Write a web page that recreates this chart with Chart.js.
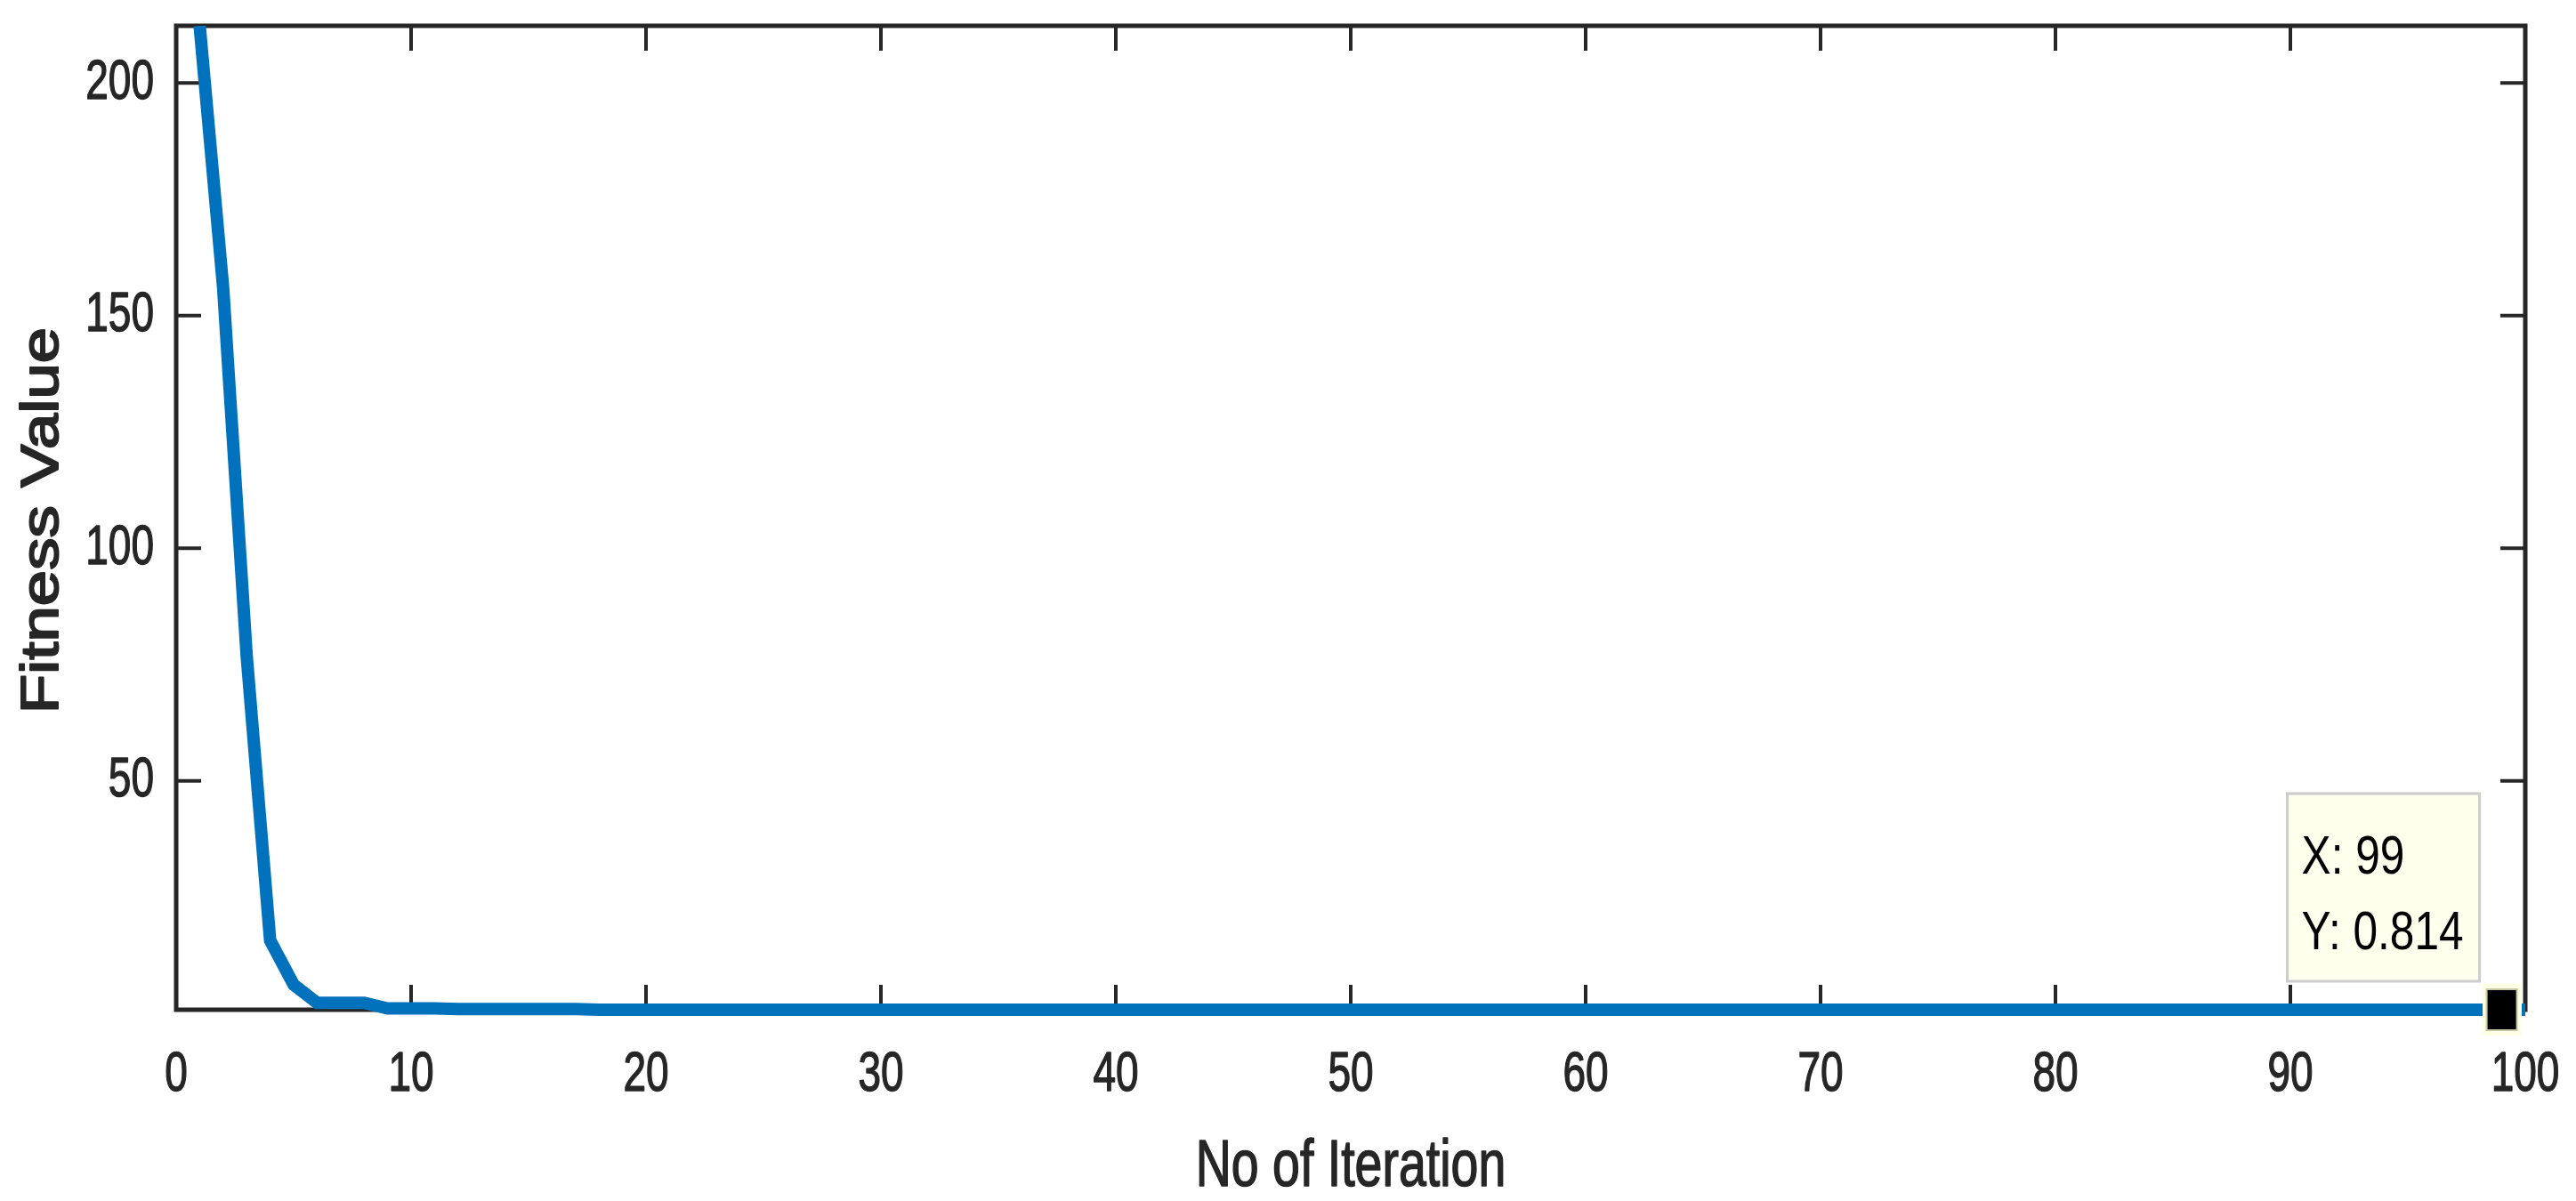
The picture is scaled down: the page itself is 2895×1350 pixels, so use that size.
<!DOCTYPE html>
<html>
<head>
<meta charset="utf-8">
<title>Fitness Value x No of Iteration</title>
<script src="https://cdn.jsdelivr.net/npm/chart.js@4.4.1/dist/chart.umd.min.js"></script>
<style>
  html, body { margin: 0; padding: 0; background: #ffffff; }
  #grafico { display: block; }
</style>
</head>
<body>
<canvas id="grafico" width="2895" height="1350"></canvas>
<script>
// fitness value for each iteration, starting at iteration 1
var fitness = [
  212.3, 156, 77, 15.7, 6.2, 2.3, 2.3, 2.3, 1.1, 1.1,
  1.1, 0.95, 0.95, 0.95, 0.95, 0.95, 0.95, 0.814, 0.814, 0.814,
  0.814, 0.814, 0.814, 0.814, 0.814, 0.814, 0.814, 0.814, 0.814, 0.814,
  0.814, 0.814, 0.814, 0.814, 0.814, 0.814, 0.814, 0.814, 0.814, 0.814,
  0.814, 0.814, 0.814, 0.814, 0.814, 0.814, 0.814, 0.814, 0.814, 0.814,
  0.814, 0.814, 0.814, 0.814, 0.814, 0.814, 0.814, 0.814, 0.814, 0.814,
  0.814, 0.814, 0.814, 0.814, 0.814, 0.814, 0.814, 0.814, 0.814, 0.814,
  0.814, 0.814, 0.814, 0.814, 0.814, 0.814, 0.814, 0.814, 0.814, 0.814,
  0.814, 0.814, 0.814, 0.814, 0.814, 0.814, 0.814, 0.814, 0.814, 0.814,
  0.814, 0.814, 0.814, 0.814, 0.814, 0.814, 0.814, 0.814, 0.814, 0.814
];
var primeiraIteracao = 1;

var xTicks = [0, 10, 20, 30, 40, 50, 60, 70, 80, 90, 100];
var yTicks = [50, 100, 150, 200];
var xLimites = [0, 100];
var yLimites = [0.814, 212.3];

var tituloX = 'No of Iteration';
var tituloY = 'Fitness Value';

// data tip
var tipX = 99;
var tipY = 0.814;

var corEixo = '#262626';
var corLinha = '#0072BD';
var fonte = '"Liberation Sans", Arial, sans-serif';

var pontos = [];
for (var i = 0; i < fitness.length; i++) {
	pontos.push({ x: primeiraIteracao + i, y: fitness[i] });
}

// matlab-like text: no narrow font installed, so scale it along the text
// espessura > 0 thickens the glyphs a little with a stroke
function textoEstreito(ctx, texto, x, y, fonteCss, escala, alinhar, base, rotacao, espessura) {
	ctx.save();
	ctx.translate(x, y);
	if (rotacao) {
		ctx.rotate(rotacao);
	}
	ctx.scale(escala, 1);
	ctx.font = fonteCss;
	ctx.textAlign = alinhar;
	ctx.textBaseline = base;
	ctx.fillText(texto, 0, 0);
	if (espessura) {
		ctx.strokeStyle = ctx.fillStyle;
		ctx.lineWidth = espessura;
		ctx.lineJoin = 'round';
		ctx.strokeText(texto, 0, 0);
	}
	ctx.restore();
}

// datatip marker: black box with a pale yellow rim
var marcador = document.createElement('canvas');
marcador.width = 44;
marcador.height = 58;
(function () {
	var c = marcador.getContext('2d');
	c.fillStyle = '#FFFFE4';
	c.fillRect(0, 0, 44, 58);
	c.fillStyle = '#C8C8A8';
	c.fillRect(4, 5, 36, 48);
	c.fillStyle = '#000000';
	c.fillRect(6, 7, 32, 44);
})();

// box + inward ticks on the four sides, labels, then the data tip
var moldura = {
	id: 'moldura',
	beforeDatasetsDraw: function (chart) {
		var ctx = chart.ctx;
		var area = chart.chartArea;
		var sx = chart.scales.x;
		var sy = chart.scales.y;
		var tam = 28;
		ctx.save();
		ctx.strokeStyle = corEixo;
		ctx.lineWidth = 4;
		ctx.beginPath();
		for (var i = 0; i < xTicks.length; i++) {
			var px = sx.getPixelForValue(xTicks[i]);
			ctx.moveTo(px, area.bottom);
			ctx.lineTo(px, area.bottom - tam);
			ctx.moveTo(px, area.top);
			ctx.lineTo(px, area.top + tam);
		}
		for (var j = 0; j < yTicks.length; j++) {
			var py = sy.getPixelForValue(yTicks[j]);
			ctx.moveTo(area.left, py);
			ctx.lineTo(area.left + tam, py);
			ctx.moveTo(area.right, py);
			ctx.lineTo(area.right - tam, py);
		}
		ctx.stroke();
		ctx.lineWidth = 5;
		ctx.strokeRect(area.left, area.top, area.right - area.left, area.bottom - area.top);

		ctx.fillStyle = corEixo;
		for (var k = 0; k < xTicks.length; k++) {
			textoEstreito(ctx, String(xTicks[k]), sx.getPixelForValue(xTicks[k]), area.bottom + 74,
				'63px ' + fonte, 0.73, 'center', 'middle', 0, 1.4);
		}
		for (var m = 0; m < yTicks.length; m++) {
			textoEstreito(ctx, String(yTicks[m]), area.left - 25, sy.getPixelForValue(yTicks[m]),
				'63px ' + fonte, 0.73, 'right', 'middle', 0, 1.4);
		}
		textoEstreito(ctx, tituloX, (area.left + area.right) / 2, area.bottom + 198,
			'74px ' + fonte, 0.75, 'center', 'alphabetic', 0, 1.6);
		textoEstreito(ctx, tituloY, 48, (area.top + area.bottom) / 2 + 3,
			'60px ' + fonte, 1.21, 'center', 'middle', -Math.PI / 2, 2);
		ctx.restore();
	},
	afterDatasetsDraw: function (chart) {
		var ctx = chart.ctx;
		var px = chart.scales.x.getPixelForValue(tipX);
		var py = chart.scales.y.getPixelForValue(tipY);
		var largura = 216, altura = 211;
		var bx = px - 25 - largura;
		var by = py - 32 - altura;
		ctx.save();
		ctx.fillStyle = '#FFFFEE';
		ctx.fillRect(bx, by, largura, altura);
		ctx.strokeStyle = '#CCCCCC';
		ctx.lineWidth = 3;
		ctx.strokeRect(bx, by, largura, altura);
		ctx.fillStyle = '#000000';
		textoEstreito(ctx, 'X: ' + tipX, bx + 16, py - 153, '62px ' + fonte, 0.8, 'left', 'alphabetic', 0, 0);
		textoEstreito(ctx, 'Y: ' + tipY, bx + 16, py - 68, '62px ' + fonte, 0.8, 'left', 'alphabetic', 0, 0);
		ctx.restore();
	}
};

var data = {
	datasets: [
		{
			label: 'tip',
			data: [{ x: tipX, y: tipY }],
			showLine: false,
			pointStyle: marcador,
			pointRadius: 28,
			order: 0,
			clip: false
		},
		{
			label: 'fitness',
			data: pontos,
			borderColor: corLinha,
			borderWidth: 14,
			pointRadius: 0,
			tension: 0,
			fill: false,
			order: 1,
			clip: { left: 0, top: 0, right: 0, bottom: 10 }
		}
	]
};

var options = {
	responsive: false,
	devicePixelRatio: 1,
	animation: false,
	events: [],
	layout: { padding: { left: 0, top: 20, right: 57, bottom: 0 } },
	plugins: {
		legend: { display: false },
		tooltip: { enabled: false }
	},
	scales: {
		x: {
			type: 'linear',
			min: xLimites[0],
			max: xLimites[1],
			afterBuildTicks: function (scale) {
				scale.ticks = xTicks.map(function (v) { return { value: v }; });
			},
			afterFit: function (scale) {
				scale.height = 215;
				scale.paddingLeft = 0;
				scale.paddingRight = 0;
			},
			grid: { display: false, drawTicks: false },
			border: { display: false },
			ticks: { display: false },
			title: { display: false }
		},
		y: {
			type: 'linear',
			min: yLimites[0],
			max: yLimites[1],
			afterBuildTicks: function (scale) {
				scale.ticks = yTicks.map(function (v) { return { value: v }; });
			},
			afterFit: function (scale) {
				scale.width = 198;
				scale.paddingTop = 0;
				scale.paddingBottom = 0;
			},
			grid: { display: false, drawTicks: false },
			border: { display: false },
			ticks: { display: false },
			title: { display: false }
		}
	}
};

var grafico = new Chart(document.getElementById('grafico'), {
	type: 'line',
	data: data,
	options: options,
	plugins: [moldura]
});
</script>
</body>
</html>
